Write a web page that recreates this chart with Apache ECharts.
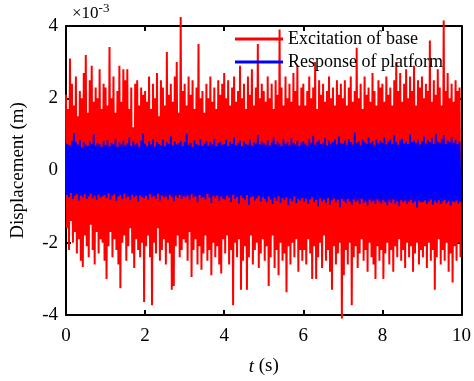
<!DOCTYPE html>
<html>
<head>
<meta charset="utf-8">
<script src="https://cdn.jsdelivr.net/npm/echarts@6/dist/echarts.min.js"></script>
<style>html,body{margin:0;padding:0;background:#fff}#c{width:474px;height:381px}</style>
</head>
<body>
<div id="c"></div>
<script>
// Time step between samples (s)
const sampleStep = 0.025;
// Tick values
const xTicks = [0, 2, 4, 6, 8, 10];
const yTicks = [-4, -2, 0, 2, 4];
const seriesNames = ['Excitation of base', 'Response of platform'];
// Displacement values in units of 1e-3 m (peak / trough envelope)
const excitationBase = [
  2.1,-1.6, 1.7,-2.2, 3.1,-1.4, 2.4,-2.0, 1.8,-1.7, 2.6,-2.3, 1.5,-1.9, 2.2,-2.5, 2.0,-2.67, 2.7,-1.8, 3.2,-2.1, 1.6,-2.4, 2.5,-1.5, 2.9,-2.2, 1.9,-2.6, 2.3,-1.7, 2.0,-2.3, 2.8,-1.9, 1.7,-2.0, 2.4,-2.5,
  2.3,-3.0, 1.8,-2.1, 3.42,-1.7, 2.0,-2.4, 2.6,-1.9, 1.6,-2.2, 2.2,-2.6, 2.9,-3.26, 1.9,-2.0, 2.8,-1.8, 2.5,-2.5, 2.8,-2.1, 1.7,-1.6, 2.3,-2.3, 1.2,-2.7, 2.4,-1.9, 2.5,-2.2, 1.8,-2.4, 2.3,-2.0, 2.1,-3.64,
  2.2,-2.1, 1.9,-1.8, 2.6,-2.4, 1.7,-3.73, 2.4,-2.0, 2.0,-2.3, 2.7,-1.6, 1.5,-2.5, 2.5,-2.2, 2.3,-1.9, 1.8,-2.6, 3.28,-2.0, 2.1,-2.3, 2.4,-3.3, 1.9,-3.2, 2.6,-2.1, 3.0,-1.8, 1.6,-2.4, 4.25,-2.2, 2.2,-1.9,
  2.4,-2.0, 1.8,-2.5, 2.6,-1.7, 2.1,-2.95, 2.5,-2.2, 1.7,-1.9, 2.3,-2.6, 3.5,-2.1, 2.0,-2.75, 2.2,-2.3, 1.6,-1.8, 2.4,-2.5, 2.0,-2.2, 2.6,-2.9, 1.9,-2.0, 2.3,-2.4, 1.7,-2.1, 2.5,-2.6, 2.1,-2.85, 2.4,-1.9,
  2.7,-2.3, 2.0,-1.8, 2.5,-2.6, 1.8,-2.2, 2.3,-3.73, 2.6,-2.0, 1.9,-2.4, 2.2,-1.9, 2.9,-3.3, 2.0,-2.5, 2.4,-2.1, 1.7,-3.3, 2.6,-2.4, 2.1,-1.8, 2.8,-2.6, 1.8,-2.2, 2.3,-2.0, 3.5,-2.7, 2.0,-2.3, 2.4,-1.9,
  2.2,-2.5, 1.9,-2.1, 2.6,-3.2, 2.0,-2.4, 2.4,-1.8, 1.7,-2.7, 2.5,-2.2, 2.1,-2.9, 3.9,-2.0, 2.3,-2.5, 1.8,-2.3, 2.6,-3.37, 2.0,-2.1, 2.4,-2.6, 1.9,-2.0, 2.7,-2.4, 2.2,-1.9, 2.9,-2.8, 1.8,-2.2, 2.3,-2.5,
  2.4,-2.2, 1.8,-2.6, 2.2,-1.9, 2.6,-2.3, 2.0,-3.0, 2.3,-2.1, 3.0,-3.0, 1.7,-2.4, 2.5,-2.0, 2.1,-2.7, 2.4,-1.8, 1.9,-2.5, 2.2,-2.2, 2.6,-2.8, 2.0,-3.3, 2.3,-2.1, 1.8,-2.6, 2.5,-2.3, 2.1,-2.0, 2.4,-4.1,
  2.0,-2.9, 2.5,-2.2, 1.8,-2.6, 2.3,-2.0, 2.6,-3.73, 1.9,-2.4, 2.2,-2.1, 3.4,-2.7, 2.0,-2.3, 2.4,-1.9, 1.7,-2.5, 2.6,-2.2, 2.1,-2.8, 2.3,-2.0, 1.9,-2.4, 2.7,-2.6, 2.2,-3.0, 1.8,-2.1, 2.5,-2.5, 2.3,-2.2,
  2.4,-3.0, 1.9,-2.3, 2.6,-2.0, 2.1,-2.6, 2.3,-2.2, 1.8,-2.8, 2.5,-2.1, 3.0,-2.4, 2.2,-1.9, 2.7,-2.5, 1.9,-2.2, 2.4,-2.7, 2.8,-2.0, 2.0,-2.4, 2.6,-2.1, 2.2,-2.8, 2.9,-2.3, 1.8,-2.0, 2.5,-2.6, 2.3,-2.2,
  2.6,-2.4, 2.0,-2.1, 2.4,-2.7, 2.2,-2.0, 3.6,-2.5, 1.9,-2.2, 2.5,-3.3, 2.1,-2.4, 2.8,-1.9, 2.3,-2.6, 1.8,-2.2, 4.15,-2.5, 2.2,-2.0, 2.7,-2.8, 2.0,-2.3, 2.4,-3.1, 1.9,-2.1, 2.5,-2.5, 2.2,-2.0, 2.3,-2.4
];
const responsePlatform = [
  0.75,-0.68, 0.72,-0.74, 0.70,-0.62, 0.82,-0.79, 1.04,-0.70, 0.78,-0.65, 0.72,-0.83, 0.85,-0.69, 0.64,-0.74, 0.79,-0.66, 0.71,-0.78, 0.68,-0.72, 0.80,-0.64, 0.74,-0.77, 1.00,-0.70, 0.69,-0.81, 0.77,-0.67, 0.73,-0.75, 0.66,-0.71, 0.81,-0.68,
  0.70,-0.76, 0.84,-0.63, 0.67,-0.80, 0.76,-0.70, 0.73,-0.66, 0.88,-0.84, 0.65,-0.72, 0.78,-0.68, 0.71,-0.79, 0.82,-0.64, 0.69,-0.75, 0.75,-0.71, 0.92,-0.82, 0.68,-0.67, 0.80,-0.74, 0.72,-0.70, 0.77,-0.86, 0.66,-0.69, 0.83,-0.73, 1.03,-0.77,
  0.74,-0.70, 0.68,-0.81, 0.81,-0.66, 0.72,-0.74, 0.87,-0.71, 0.66,-0.78, 0.79,-0.64, 0.73,-0.83, 0.70,-0.69, 0.85,-0.75, 0.67,-0.72, 0.78,-0.80, 0.74,-0.67, 0.95,-0.73, 0.69,-0.85, 0.80,-0.70, 0.72,-0.76, 0.76,-0.68, 0.83,-0.79, 0.68,-0.72,
  0.79,-0.74, 1.02,-0.69, 0.71,-0.82, 0.77,-0.66, 0.66,-0.75, 0.84,-0.71, 0.73,-0.88, 0.70,-0.68, 0.86,-0.77, 0.68,-0.73, 0.75,-0.80, 0.81,-0.65, 0.69,-0.74, 0.78,-0.90, 0.72,-0.70, 0.88,-0.76, 0.67,-0.69, 0.76,-0.84, 0.80,-0.72, 0.71,-0.78,
  0.73,-0.80, 0.85,-0.70, 0.68,-0.75, 0.79,-0.87, 0.74,-0.67, 0.92,-0.79, 0.70,-0.73, 0.77,-0.91, 0.82,-0.70, 0.67,-0.76, 0.80,-0.82, 0.74,-0.68, 0.71,-0.95, 0.87,-0.74, 0.69,-0.71, 0.78,-0.83, 0.75,-0.77, 0.98,-0.70, 0.72,-0.86, 0.80,-0.73,
  0.76,-0.79, 0.71,-0.88, 0.84,-0.72, 0.69,-0.80, 0.78,-0.93, 0.93,-0.75, 0.72,-0.84, 0.80,-0.71, 0.75,-0.89, 0.68,-0.77, 0.86,-0.82, 0.73,-0.74, 0.79,-0.96, 0.70,-0.78, 0.89,-0.85, 0.76,-0.72, 0.72,-0.90, 0.83,-0.79, 0.68,-0.83, 0.78,-0.76,
  0.81,-0.86, 0.74,-0.78, 0.70,-0.92, 0.88,-0.80, 0.76,-0.74, 0.96,-0.87, 0.71,-0.81, 0.79,-0.99, 0.84,-0.77, 0.73,-0.85, 0.77,-0.80, 0.90,-0.89, 0.69,-0.76, 0.82,-0.94, 0.75,-0.82, 0.79,-0.78, 0.86,-0.88, 0.72,-0.81, 0.94,-1.02, 0.77,-0.79,
  0.74,-0.84, 0.83,-0.90, 0.71,-0.79, 0.87,-0.86, 0.79,-0.95, 0.72,-0.80, 1.05,-0.87, 0.76,-0.83, 0.81,-0.92, 0.70,-0.78, 0.85,-0.89, 0.78,-0.85, 0.73,-0.97, 0.91,-0.81, 0.76,-0.88, 0.80,-0.84, 0.70,-0.93, 0.86,-0.80, 0.75,-0.86, 0.82,-0.91,
  0.77,-0.82, 0.92,-0.88, 0.72,-0.96, 0.80,-0.83, 0.85,-0.89, 0.74,-0.80, 0.97,-0.91, 0.78,-0.85, 0.71,-0.99, 0.84,-0.82, 0.88,-0.87, 0.75,-0.84, 0.80,-0.93, 0.73,-0.86, 1.00,-0.81, 0.79,-0.90, 0.83,-0.85, 0.76,-1.03, 0.86,-0.84, 0.72,-0.88,
  0.81,-0.87, 0.95,-0.83, 0.75,-0.92, 0.84,-0.86, 0.78,-0.80, 0.90,-0.95, 0.73,-0.84, 1.02,-0.89, 0.80,-0.82, 0.76,-0.93, 0.87,-0.86, 0.98,-0.81, 0.74,-0.90, 0.83,-0.84, 0.79,-0.97, 0.92,-0.85, 0.77,-0.88, 0.85,-0.83, 0.73,-0.91, 0.80,-0.86
];

const FONT = '"Liberation Serif", "Times New Roman", serif';
const toPairs = arr => arr.map((v, i) => [+(i * sampleStep).toFixed(4), v]);

const chart = echarts.init(document.getElementById('c'), null, {renderer: 'canvas'});
const axisLine = {show: true, onZero: false, lineStyle: {color: '#000', width: 2}};
const tick = {show: true, inside: true, length: 5, lineStyle: {color: '#000', width: 2}};
chart.setOption({
  animation: false,
  backgroundColor: '#fff',
  grid: {left: 66, right: 10, top: 26, bottom: 66, containLabel: false},
  legend: {
    left: 235, top: 30, orient: 'vertical', itemGap: 5, padding: 0,
    itemWidth: 48, itemHeight: 3, icon: 'rect',
    textStyle: {fontFamily: FONT, fontSize: 18, color: '#000', padding: [0, 0, 0, 0]},
    data: seriesNames
  },
  graphic: [{
    type: 'text', left: 72, top: 2,
    style: {
      text: '×10{sup|-3}', fontFamily: FONT, fontSize: 17, fill: '#000',
      rich: {sup: {fontFamily: FONT, fontSize: 13, verticalAlign: 'top', padding: [0, 0, 10, 0]}}
    }
  }],
  xAxis: [{
    type: 'value', min: xTicks[0], max: xTicks[xTicks.length - 1], interval: 2, position: 'bottom',
    axisLine, axisTick: tick, splitLine: {show: false},
    axisLabel: {fontFamily: FONT, fontSize: 19, color: '#000', margin: 12},
    name: '{i|t} (s)', nameLocation: 'middle', nameGap: 42,
    nameTextStyle: {fontFamily: FONT, fontSize: 19, color: '#000', rich: {i: {fontFamily: FONT, fontSize: 19, fontStyle: 'italic'}}}
  }, {
    type: 'value', min: xTicks[0], max: xTicks[xTicks.length - 1], interval: 2, position: 'top',
    axisLine, axisTick: tick, axisLabel: {show: false}, splitLine: {show: false}
  }],
  yAxis: [{
    type: 'value', min: yTicks[0], max: yTicks[yTicks.length - 1], interval: 2, position: 'left',
    axisLine, axisTick: tick, splitLine: {show: false},
    axisLabel: {fontFamily: FONT, fontSize: 19, color: '#000', margin: 8},
    name: 'Displacement (m)', nameLocation: 'middle', nameGap: 38,
    nameTextStyle: {fontFamily: FONT, fontSize: 19, color: '#000'}
  }, {
    type: 'value', min: yTicks[0], max: yTicks[yTicks.length - 1], interval: 2, position: 'right',
    axisLine, axisTick: tick, axisLabel: {show: false}, splitLine: {show: false}
  }],
  series: [{
    name: seriesNames[0], type: 'line', data: toPairs(excitationBase),
    showSymbol: false, symbol: 'none', clip: false,
    lineStyle: {color: '#ff0000', width: 2}, itemStyle: {color: '#ff0000'}, z: 2
  }, {
    name: seriesNames[1], type: 'line', data: toPairs(responsePlatform),
    showSymbol: false, symbol: 'none',
    lineStyle: {color: '#0000ff', width: 1.8}, itemStyle: {color: '#0000ff'}, z: 3
  }]
});
</script>
</body>
</html>
